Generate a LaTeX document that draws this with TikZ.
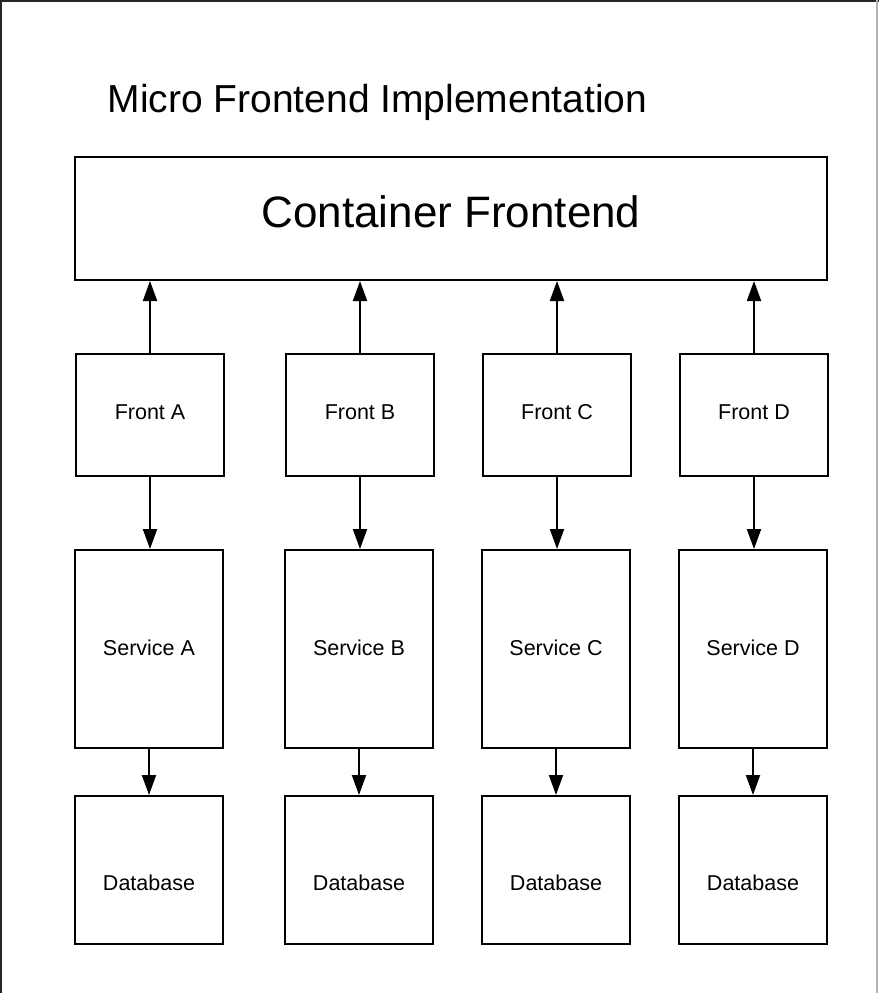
\documentclass[tikz,border=0pt]{standalone}
\usepackage{fontspec}
\setmainfont{Liberation Sans}
\usetikzlibrary{arrows.meta,shapes.geometric}
\begin{document}
\begin{tikzpicture}[x=1pt,y=-1pt,
  box/.style={draw,line width=2pt,minimum width=148pt,inner sep=0pt,font=\fontsize{21.5}{24}\selectfont},
  db/.style={draw,line width=2pt,cylinder,shape border rotate=90,aspect=0.5,minimum width=148pt,minimum height=148pt,inner sep=0pt,font=\fontsize{21.5}{24}\selectfont,text depth=0pt},
  arr/.style={line width=2pt,-{Triangle[length=20pt,width=14pt]}}]
\useasboundingbox (0,0) rectangle (879,993);
\fill[white] (0,0) rectangle (879,993);
\draw[line width=3pt,black!85] (0,993) -- (0,0) -- (879,0);
\draw[line width=2pt,black!30] (877,0) -- (877,993);
\node[anchor=base west,font=\fontsize{39}{44}\selectfont] (title) at (104,112) {Micro Frontend Implementation};
\node[draw,line width=2pt,minimum width=752pt,minimum height=123pt,inner sep=0pt] (cont) at (451,218.5) {};
\node[font=\fontsize{44}{50}\selectfont] (ct) at (451,212) {Container Frontend};
\foreach \n/\x in {A/150,B/360,C/557,D/754}{
  \node[box,minimum height=122pt] (f\n) at (\x,415) {};
  \node[font=\fontsize{21.5}{24}\selectfont] (ft\n) at (\x,412) {Front \n};
  \node[box,minimum height=198pt] (s\n) at (\x-1,649) {};
  \node[font=\fontsize{21.5}{24}\selectfont] (st\n) at (\x-1,648) {Service \n};
  \node[db] (d\n) at (\x-1,870.5) {};
  \node[font=\fontsize{21.5}{24}\selectfont] (dt\n) at (\x-1,883) {Database};
  \draw[arr] (f\n.north) -- (f\n.north |- cont.south);
  \draw[arr] (f\n.south) -- (f\n.south |- s\n.north);
  \draw[arr] (s\n.south) -- (d\n.north);
}
\end{tikzpicture}
\end{document}
